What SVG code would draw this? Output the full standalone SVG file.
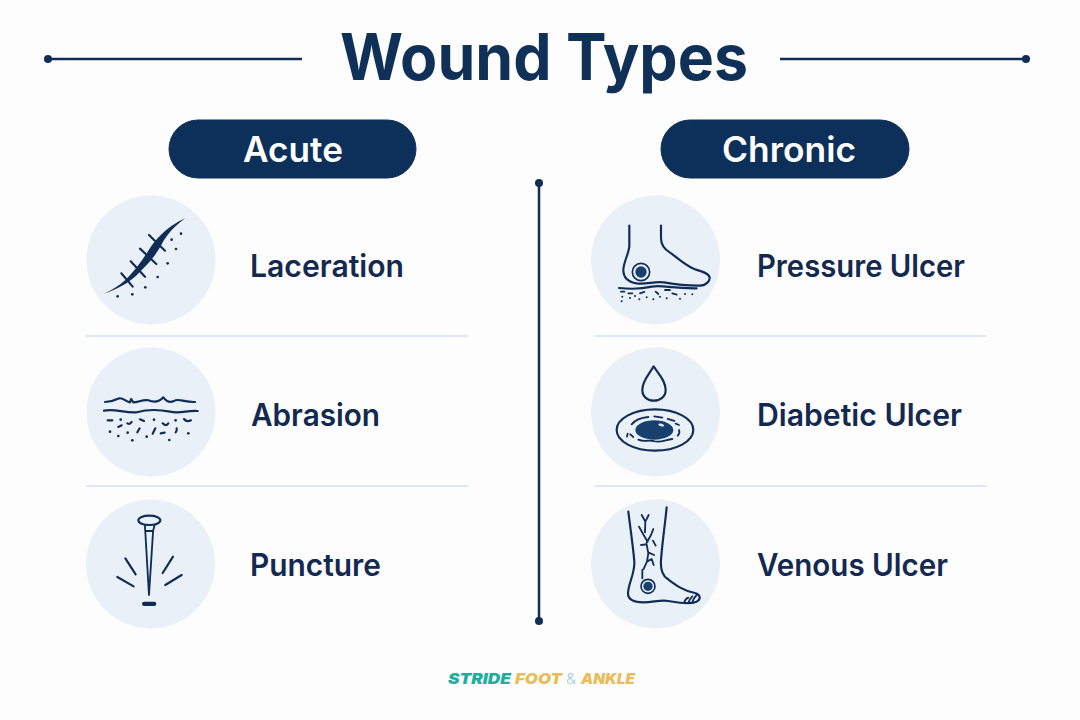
<svg xmlns="http://www.w3.org/2000/svg" width="1080" height="720" viewBox="0 0 1080 720">
<defs><style>
.bg{fill:#fdfdfe}
.disc{fill:#eaf0f8}
.ln{fill:none;stroke:#0f2d55;stroke-linecap:round;stroke-linejoin:round;stroke-width:6.500}
.th{fill:none;stroke:#0f2d55;stroke-linecap:round;stroke-linejoin:round;stroke-width:5.500}
.fl{fill:#0f2d55}
.rule{stroke:#0f2d55;stroke-width:2.500;fill:none}
.sep{stroke:#d3e1f1;stroke-width:1.600;fill:none}
.pill{fill:#0c3059;stroke:#0f2d55;stroke-width:1}
text{font-family:"Inter","Liberation Sans",sans-serif}
.title{font-size:64px;font-weight:700;fill:#0f3157}
.head{font-size:35px;font-weight:600;fill:#fff;text-anchor:middle}
.lab{font-size:31px;font-weight:600;fill:#14294f}
.brand{font-size:15px;font-weight:900;font-style:italic}
</style></defs>
<rect class="bg" width="1080" height="720"/>
<g id="title">
<text class="title" x="340" y="80" textLength="408" lengthAdjust="spacingAndGlyphs">Wound Types</text>
<path class="rule" d="M48 59H302M780 59H1026"/>
<circle class="fl" cx="48" cy="59" r="4"/><circle class="fl" cx="1026" cy="59" r="4"/>
</g>
<g id="connectors">
<path class="rule" d="M539 183V621"/>
<circle class="fl" cx="539" cy="183" r="4"/><circle class="fl" cx="539" cy="621" r="4"/>
<path class="sep" d="M86 336H468M86 486H468M595 336H987M595 486H987"/>
</g>
<g id="acute-header"><rect class="pill" x="169" y="120" width="247" height="58" rx="29"/><text class="head" x="293" y="162" textLength="100" lengthAdjust="spacingAndGlyphs">Acute</text></g>
<g id="chronic-header"><rect class="pill" x="661" y="120" width="248" height="58" rx="29"/><text class="head" x="789" y="162" textLength="134" lengthAdjust="spacingAndGlyphs">Chronic</text></g>

<g id="laceration">
<circle class="disc" cx="151" cy="260" r="64.500"/>
<g transform="translate(80 190) scale(.3333)">
<path class="fl" d="M72 311C105 296 130 280 155 250C172 232 190 205 205 182C222 155 255 112 316 84C285 108 262 130 244 165C228 195 205 222 180 245C150 278 110 298 72 311Z"/>
<path class="ln" d="M207 135L255 182M180 176L229 222M152 214L195 260M124 250L158 290"/>
<g class="fl"><circle cx="303" cy="131" r="4"/><circle cx="275" cy="149" r="4"/><circle cx="288" cy="177" r="4"/><circle cx="263" cy="220" r="4"/><circle cx="233" cy="261" r="4"/><circle cx="196" cy="292" r="4"/><circle cx="157" cy="313" r="4"/><circle cx="113" cy="319" r="4"/></g>
</g>
<text class="lab" x="250" y="277" textLength="154" lengthAdjust="spacingAndGlyphs">Laceration</text>
</g>

<g id="abrasion">
<circle class="disc" cx="151" cy="412" r="64.500"/>
<g transform="translate(80 345) scale(.3333)">
<path class="ln" d="M75 171C90 170 102 168 118 160C130 158 140 172 150 172L153 162L160 172C175 172 190 162 205 166C220 172 235 174 250 157C258 168 270 174 282 168C295 158 310 172 345 171"/>
<path class="ln" d="M72 197C105 190 130 204 170 202C205 192 240 194 270 200C300 208 325 194 353 198"/>
<path class="ln" d="M83 226H97M115 246L125 241M142 235C147 238 152 236 155 231M180 223L192 228M172 262L179 250M218 266L226 250M242 265L254 263M248 235C254 242 260 242 265 235M287 262C292 256 290 252 290 250M312 222C318 230 325 230 333 226"/>
<g class="fl"><circle cx="122" cy="224" r="4"/><circle cx="90" cy="260" r="4"/><circle cx="115" cy="273" r="4"/><circle cx="143" cy="263" r="4"/><circle cx="157" cy="286" r="4"/><circle cx="200" cy="275" r="4"/><circle cx="222" cy="224" r="4"/><circle cx="287" cy="226" r="4"/><circle cx="268" cy="285" r="4"/><circle cx="325" cy="265" r="4"/></g>
</g>
<text class="lab" x="251" y="426" textLength="129" lengthAdjust="spacingAndGlyphs">Abrasion</text>
</g>

<g id="puncture">
<circle class="disc" cx="150.500" cy="564" r="64.500"/>
<g transform="translate(80 495) scale(.3333)">
<ellipse class="ln" cx="208" cy="76" rx="33" ry="14"/>
<path class="th" d="M195 92C195 102 196 108 196 112L207 300L219 112C219 106 222 98 224 90M196 108H219"/>
<path class="ln" d="M136 190L167 238M112 246L161 274M279 185L248 234M305 240L256 270"/>
<rect class="fl" x="186" y="320" width="43" height="13" rx="6.500"/>
</g>
<text class="lab" x="250" y="576" textLength="131" lengthAdjust="spacingAndGlyphs">Puncture</text>
</g>

<g id="pressure-ulcer">
<circle class="disc" cx="655.500" cy="260" r="64.500"/>
<g transform="translate(585 190) scale(.3333)">
<path class="ln" d="M133 107V170C130 195 116 215 115 240C115 262 130 276 155 280C185 284 205 274 235 277C265 282 300 288 345 287C365 286 375 272 374 262C372 250 350 244 330 238C300 226 280 205 255 188C238 178 228 165 228 145V107"/>
<circle cx="168" cy="246" r="26" fill="none" stroke="#0f2d55" stroke-width="5"/>
<circle cx="168" cy="246" r="17" fill="#17406f"/>
<path class="ln" d="M102 294C140 298 175 296 200 290C230 284 260 296 335 295"/>
<path class="th" d="M108 305H118M130 310H142M165 310L178 306M212 305L220 312M240 300H255M262 310L275 314"/>
<g class="fl"><circle cx="112" cy="320" r="3"/><circle cx="135" cy="324" r="3"/><circle cx="150" cy="318" r="3"/><circle cx="163" cy="328" r="3"/><circle cx="185" cy="322" r="3"/><circle cx="205" cy="328" r="3"/><circle cx="225" cy="320" r="3"/><circle cx="245" cy="325" r="3"/><circle cx="285" cy="326" r="3"/><circle cx="300" cy="312" r="3"/><circle cx="322" cy="313" r="3"/><circle cx="110" cy="334" r="3"/></g>
</g>
<text class="lab" x="757" y="277" textLength="208" lengthAdjust="spacingAndGlyphs">Pressure Ulcer</text>
</g>

<g id="diabetic-ulcer">
<circle class="disc" cx="655.500" cy="412" r="64.500"/>
<g transform="translate(585 345) scale(.3333)">
<path class="ln" d="M206 64C195 85 172 105 172 135C172 155 188 167 206 167C226 167 242 155 242 135C242 105 218 85 206 64Z"/>
<ellipse class="ln" cx="210" cy="255" rx="115" ry="62"/>
<ellipse cx="208" cy="255" rx="57" ry="29" fill="#17406f"/>
<ellipse cx="229" cy="240" rx="9" ry="4" fill="#dfe8f2" transform="rotate(15 229 240)"/>
<path class="th" d="M140 238C150 225 170 218 190 216M208 214L232 218M248 222L268 228M272 236L282 240M282 255C285 262 282 268 278 272M262 282C240 285 225 295 205 288C190 284 178 292 160 284M145 276L136 268M128 266L126 275"/>
</g>
<text class="lab" x="757" y="426" textLength="205" lengthAdjust="spacingAndGlyphs">Diabetic Ulcer</text>
</g>

<g id="venous-ulcer">
<circle class="disc" cx="655.500" cy="564" r="64.500"/>
<g transform="translate(585 495) scale(.3333)">
<path class="ln" d="M130 50C136 100 145 160 148 200C150 235 130 265 129 295C129 315 150 322 175 322C205 322 225 314 250 318C275 322 310 330 335 320C350 312 345 298 330 294C295 288 270 268 248 252C230 240 226 222 228 195C232 140 240 90 245 37"/>
<path class="th" d="M170 60L181 80L191 60M181 80L180 112M162 95L176 120L188 140M205 102L198 120L184 145M168 150L185 148L190 175L186 200L176 222M172 250V225M190 172L207 180M186 200L200 192L206 210M204 137L212 152"/>
<circle cx="189" cy="274" r="21" fill="none" stroke="#0f2d55" stroke-width="5"/>
<circle cx="189" cy="274" r="14" fill="#17406f"/>
<path class="th" d="M298 322C300 314 305 310 310 308M310 324C312 314 318 308 322 304M322 322C324 312 330 305 335 300"/>
</g>
<text class="lab" x="757" y="576" textLength="191" lengthAdjust="spacingAndGlyphs">Venous Ulcer</text>
</g>

<g id="brand">
<text class="brand" x="448" y="684" textLength="63" lengthAdjust="spacingAndGlyphs" fill="#1fae9e">STRIDE</text>
<text class="brand" x="515" y="684" textLength="47" lengthAdjust="spacingAndGlyphs" fill="#e9bd5b">FOOT</text>
<text x="566" y="684" font-size="15" font-weight="300" fill="#9fcfd0" textLength="10" lengthAdjust="spacingAndGlyphs">&amp;</text>
<text class="brand" x="581" y="684" textLength="54" lengthAdjust="spacingAndGlyphs" fill="#e9bd5b">ANKLE</text>
</g>
</svg>
